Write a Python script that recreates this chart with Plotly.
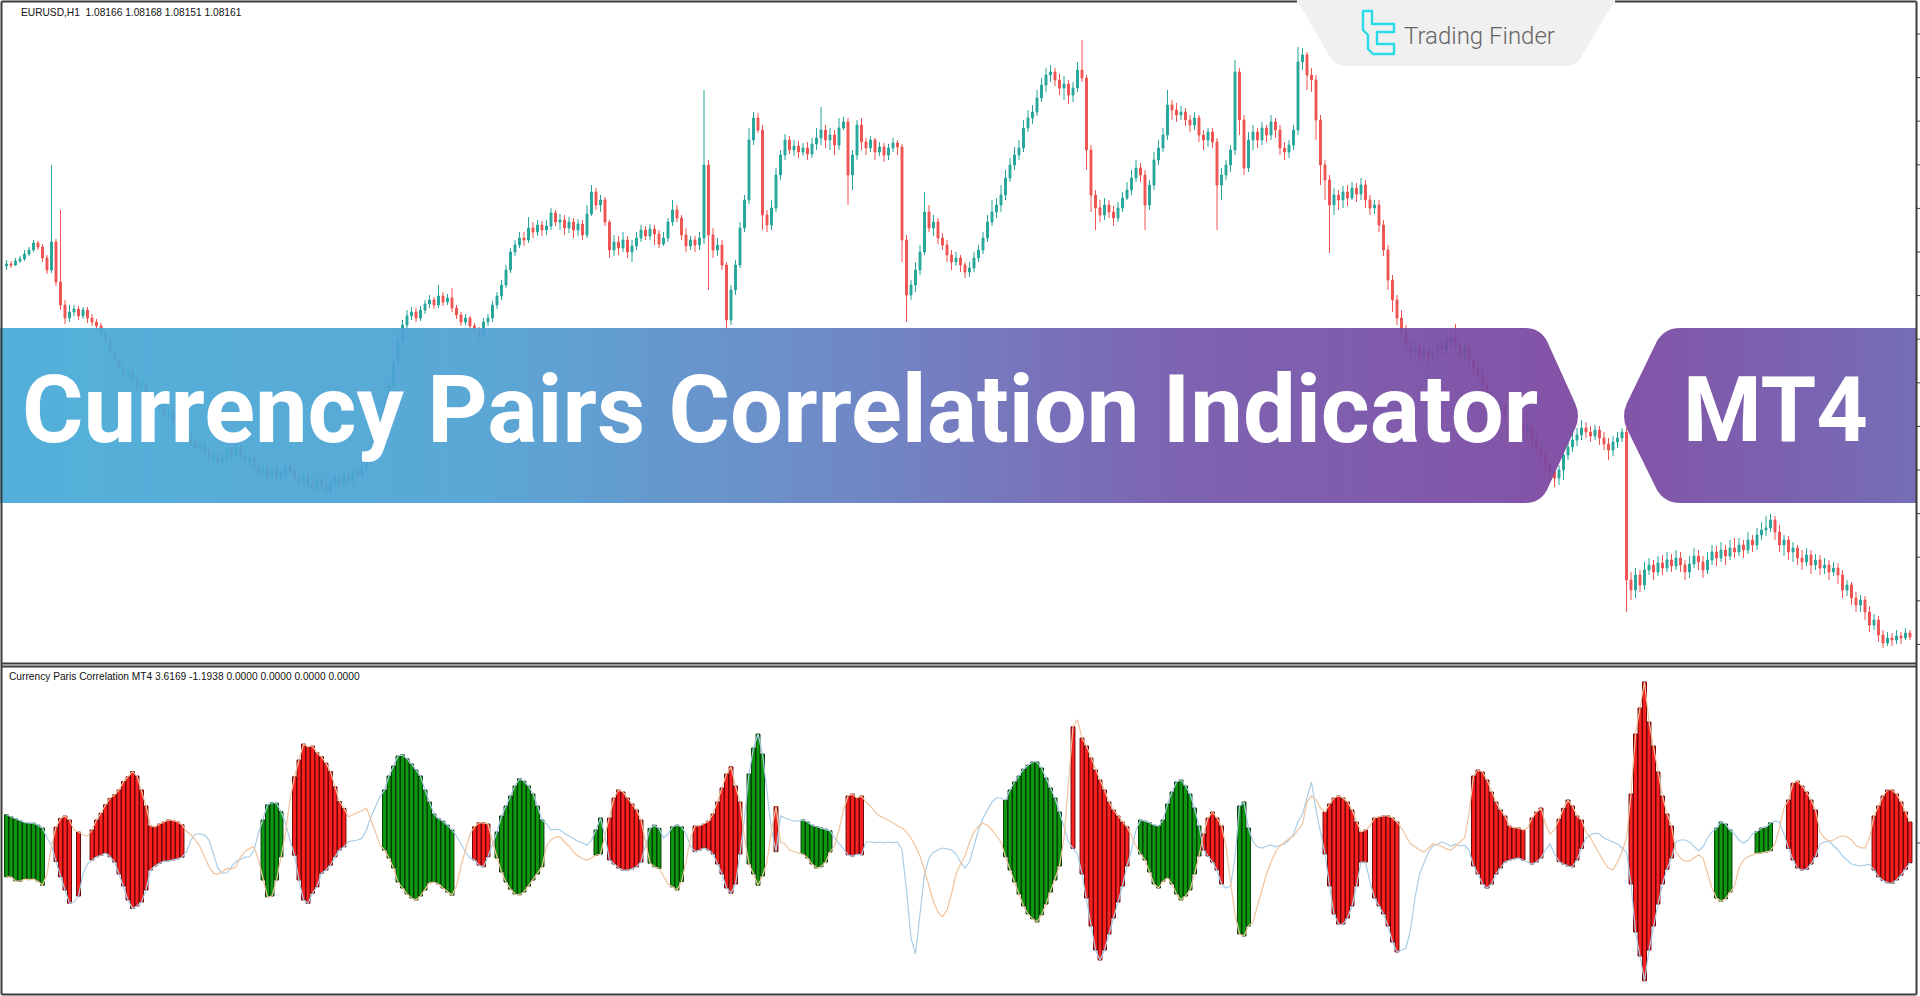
import base64
import plotly.graph_objects as go

W, H = 1920, 996

# ---------------- data: EURUSD H1 candles (price points, 1 pt = 0.00002) ----------------
BASE_PRICE = 1.07435
POINT = 0.00002

open_pts = [
    734, 736, 735, 739, 741, 746, 750, 757, 753, 742,
    730, 758, 718, 695, 682, 688, 691, 684, 690, 682,
    678, 674, 667, 660, 648, 640, 632, 625, 628, 620,
    612, 615, 605, 600, 602, 592, 585, 588, 580, 572,
    575, 565, 558, 552, 555, 548, 542, 545, 538, 542,
    550, 545, 552, 544, 538, 542, 534, 528, 532, 524,
    530, 522, 527, 534, 529, 522, 518, 524, 516, 512,
    520, 514, 510, 516, 522, 517, 524, 520, 528, 524,
    532, 538, 550, 560, 575, 595, 615, 638, 660, 675,
    684, 688, 682, 690, 696, 700, 695, 704, 698, 702,
    692, 685, 678, 682, 674, 670, 665, 678, 682, 695,
    704, 715, 730, 748, 755, 762, 760, 772, 768, 775,
    770, 774, 787, 778, 780, 772, 778, 770, 776, 765,
    786, 808, 795, 800, 778, 750, 758, 752, 760, 748,
    754, 762, 770, 764, 771, 766, 756, 762, 778, 790,
    782, 765, 754, 760, 755, 762, 835, 765, 750, 755,
    735, 680, 710, 735, 772, 800, 860, 882, 870, 785,
    775, 792, 825, 845, 860, 850, 854, 848, 852, 846,
    856, 862, 870, 860, 865, 855, 872, 878, 825, 845,
    875, 858, 852, 860, 848, 853, 845, 852, 857, 853,
    760, 705, 715, 730, 748, 788, 772, 778, 762, 755,
    745, 738, 742, 735, 728, 732, 742, 750, 762, 778,
    788, 795, 805, 822, 835, 845, 852, 872, 882, 888,
    902, 915, 925, 928, 920, 912, 916, 905, 912, 930,
    922, 850, 805, 792, 785, 795, 788, 782, 792, 802,
    810, 822, 832, 825, 795, 815, 840, 852, 865, 895,
    890, 885, 888, 880, 875, 882, 865, 860, 868, 858,
    815, 825, 835, 850, 928, 880, 832, 860, 868, 860,
    872, 865, 878, 870, 852, 848, 855, 870, 938, 945,
    925, 920, 880, 835, 820, 795, 805, 800, 808, 802,
    812, 806, 815, 800, 792, 795, 775, 750, 720, 700,
    682, 670, 655, 648, 652, 644, 650, 642, 648, 655,
    650, 658, 662, 655, 645, 652, 640, 632, 625, 615,
    605, 598, 590, 594, 585, 580, 585, 575, 568, 572,
    560, 552, 545, 535, 528, 522, 530, 545, 553, 560,
    565, 572, 568, 564, 570, 562, 556, 550, 558, 562,
    568, 420, 410, 425, 415, 430, 435, 428, 437, 432,
    440, 434, 442, 435, 428, 436, 444, 438, 430, 440,
    448, 442, 450, 444, 452, 448, 455, 450, 460, 455,
    465, 470, 472, 480, 468, 455, 460, 448, 452, 442,
    438, 445, 435, 440, 432, 435, 428, 432, 425, 410,
    415, 402, 395, 400, 388, 375, 380, 365, 357, 362,
    360, 364, 362, 367,
]
high_pts = [
    740, 739, 742, 744, 750, 753, 760, 759, 756, 745,
    835, 761, 790, 700, 695, 695, 694, 693, 693, 686,
    681, 677, 670, 663, 651, 643, 636, 631, 631, 623,
    618, 618, 609, 606, 605, 595, 592, 591, 583, 579,
    578, 568, 561, 559, 558, 551, 549, 548, 546, 554,
    553, 556, 555, 547, 545, 546, 537, 535, 536, 533,
    534, 530, 538, 537, 532, 526, 528, 528, 519, 523,
    523, 518, 519, 526, 525, 527, 528, 532, 531, 536,
    542, 554, 565, 580, 600, 620, 643, 665, 680, 690,
    693, 692, 694, 700, 705, 703, 715, 708, 706, 712,
    695, 688, 686, 684, 677, 673, 682, 686, 699, 708,
    720, 735, 752, 760, 768, 768, 783, 778, 780, 779,
    780, 792, 790, 786, 785, 783, 782, 781, 780, 795,
    815, 812, 805, 803, 780, 765, 764, 768, 764, 760,
    768, 775, 774, 776, 775, 770, 768, 782, 800, 795,
    785, 772, 764, 764, 768, 910, 840, 772, 762, 760,
    738, 715, 740, 778, 805, 872, 888, 887, 875, 790,
    800, 832, 850, 866, 864, 860, 859, 857, 858, 862,
    872, 893, 875, 872, 870, 882, 883, 882, 850, 880,
    882, 862, 864, 862, 858, 857, 856, 862, 860, 856,
    765, 720, 738, 755, 808, 795, 785, 782, 767, 760,
    750, 748, 745, 738, 738, 748, 755, 768, 785, 800,
    802, 815, 830, 842, 853, 860, 880, 890, 895, 910,
    922, 932, 935, 932, 926, 924, 920, 918, 938, 960,
    925, 855, 810, 800, 802, 800, 794, 798, 808, 818,
    830, 840, 837, 830, 820, 848, 860, 872, 910, 900,
    897, 894, 892, 885, 888, 885, 870, 872, 872, 862,
    832, 840, 855, 940, 932, 885, 868, 875, 872, 878,
    875, 885, 882, 875, 858, 860, 875, 953, 952, 948,
    932, 925, 885, 840, 825, 812, 810, 814, 815, 818,
    817, 822, 820, 805, 800, 800, 780, 755, 725, 705,
    690, 675, 660, 658, 656, 655, 654, 652, 660, 660,
    664, 670, 676, 660, 657, 656, 645, 638, 630, 620,
    610, 602, 600, 598, 590, 592, 588, 580, 578, 575,
    565, 558, 550, 540, 534, 535, 550, 560, 568, 572,
    580, 578, 574, 575, 574, 568, 562, 564, 568, 572,
    572, 428, 432, 430, 438, 442, 440, 444, 445, 448,
    446, 450, 448, 440, 444, 452, 450, 444, 448, 455,
    454, 458, 455, 460, 462, 462, 460, 468, 465, 472,
    478, 484, 486, 484, 475, 465, 464, 458, 455, 450,
    452, 450, 446, 445, 442, 440, 438, 437, 430, 420,
    418, 408, 405, 404, 394, 386, 384, 370, 368, 367,
    370, 368, 372, 370,
]
low_pts = [
    730, 732, 734, 737, 739, 744, 748, 750, 738, 726,
    727, 714, 690, 676, 678, 684, 680, 681, 677, 674,
    670, 664, 656, 645, 636, 628, 621, 622, 616, 608,
    609, 602, 596, 597, 589, 581, 582, 576, 568, 569,
    561, 554, 548, 549, 544, 538, 539, 534, 535, 539,
    542, 541, 540, 534, 535, 530, 524, 525, 520, 521,
    518, 519, 523, 526, 518, 514, 515, 512, 508, 509,
    511, 506, 507, 513, 514, 513, 517, 516, 521, 521,
    529, 535, 546, 556, 571, 591, 611, 634, 656, 671,
    680, 678, 679, 686, 692, 691, 692, 694, 695, 688,
    681, 674, 675, 670, 666, 660, 662, 674, 678, 691,
    700, 712, 727, 744, 752, 754, 757, 762, 764, 764,
    765, 770, 774, 770, 765, 767, 762, 764, 760, 762,
    784, 790, 788, 774, 742, 744, 745, 748, 742, 738,
    750, 758, 760, 760, 755, 752, 754, 758, 774, 778,
    760, 748, 750, 748, 750, 756, 710, 742, 744, 730,
    670, 675, 705, 732, 768, 796, 855, 867, 770, 768,
    770, 788, 820, 840, 846, 844, 842, 844, 840, 842,
    850, 855, 852, 850, 845, 850, 870, 795, 810, 840,
    850, 845, 848, 840, 844, 838, 840, 848, 845, 738,
    678, 700, 708, 725, 745, 768, 764, 756, 750, 738,
    730, 734, 728, 722, 723, 728, 738, 746, 758, 774,
    782, 788, 800, 818, 830, 840, 848, 868, 876, 884,
    898, 908, 918, 914, 905, 900, 896, 898, 908, 918,
    830, 788, 770, 778, 780, 782, 774, 778, 788, 800,
    805, 818, 818, 770, 790, 810, 835, 848, 860, 880,
    878, 880, 874, 868, 870, 858, 850, 853, 852, 770,
    800, 820, 828, 845, 865, 825, 828, 850, 852, 855,
    858, 860, 862, 845, 840, 842, 850, 865, 930, 910,
    908, 860, 815, 800, 747, 785, 790, 792, 794, 800,
    798, 800, 792, 785, 786, 768, 744, 710, 688, 675,
    662, 648, 640, 642, 638, 640, 635, 638, 642, 644,
    645, 652, 650, 640, 640, 632, 625, 618, 608, 598,
    590, 582, 584, 578, 572, 575, 568, 560, 562, 552,
    545, 538, 528, 520, 513, 515, 520, 540, 548, 554,
    560, 562, 558, 560, 555, 550, 540, 544, 552, 558,
    388, 400, 402, 408, 410, 425, 420, 424, 425, 428,
    428, 430, 428, 420, 422, 432, 430, 422, 426, 435,
    434, 438, 435, 440, 442, 444, 442, 446, 448, 450,
    460, 464, 468, 460, 448, 444, 440, 438, 435, 430,
    434, 426, 430, 425, 426, 420, 424, 416, 402, 404,
    395, 388, 388, 380, 368, 370, 358, 352, 354, 354,
    356, 356, 360, 360,
]
close_pts = [
    736, 735, 739, 741, 746, 750, 757, 753, 742, 730,
    758, 718, 695, 682, 688, 691, 684, 690, 682, 678,
    674, 667, 660, 648, 640, 632, 625, 628, 620, 612,
    615, 605, 600, 602, 592, 585, 588, 580, 572, 575,
    565, 558, 552, 555, 548, 542, 545, 538, 542, 550,
    545, 552, 544, 538, 542, 534, 528, 532, 524, 530,
    522, 527, 534, 529, 522, 518, 524, 516, 512, 520,
    514, 510, 516, 522, 517, 524, 520, 528, 524, 532,
    538, 550, 560, 575, 595, 615, 638, 660, 675, 684,
    688, 682, 690, 696, 700, 695, 704, 698, 702, 692,
    685, 678, 682, 674, 670, 665, 678, 682, 695, 704,
    715, 730, 748, 755, 762, 760, 772, 768, 775, 770,
    774, 787, 778, 780, 772, 778, 770, 776, 765, 786,
    808, 795, 800, 778, 750, 758, 752, 760, 748, 754,
    762, 770, 764, 771, 766, 756, 762, 778, 790, 782,
    765, 754, 760, 755, 762, 835, 765, 750, 755, 735,
    680, 710, 735, 772, 800, 860, 882, 870, 785, 775,
    792, 825, 845, 860, 850, 854, 848, 852, 846, 856,
    862, 870, 860, 865, 855, 872, 878, 825, 845, 875,
    858, 852, 860, 848, 853, 845, 852, 857, 853, 760,
    705, 715, 730, 748, 788, 772, 778, 762, 755, 745,
    738, 742, 735, 728, 732, 742, 750, 762, 778, 788,
    795, 805, 822, 835, 845, 852, 872, 882, 888, 902,
    915, 925, 928, 920, 912, 916, 905, 912, 930, 922,
    850, 805, 792, 785, 795, 788, 782, 792, 802, 810,
    822, 832, 825, 795, 815, 840, 852, 865, 895, 890,
    885, 888, 880, 875, 882, 865, 860, 868, 858, 815,
    825, 835, 850, 928, 880, 832, 860, 868, 860, 872,
    865, 878, 870, 852, 848, 855, 870, 938, 945, 925,
    920, 880, 835, 820, 795, 805, 800, 808, 802, 812,
    806, 815, 800, 792, 795, 775, 750, 720, 700, 682,
    670, 655, 648, 652, 644, 650, 642, 648, 655, 650,
    658, 662, 655, 645, 652, 640, 632, 625, 615, 605,
    598, 590, 594, 585, 580, 585, 575, 568, 572, 560,
    552, 545, 535, 528, 522, 530, 545, 553, 560, 565,
    572, 568, 564, 570, 562, 556, 550, 558, 562, 568,
    420, 410, 425, 415, 430, 435, 428, 437, 432, 440,
    434, 442, 435, 428, 436, 444, 438, 430, 440, 448,
    442, 450, 444, 452, 448, 455, 450, 460, 455, 465,
    470, 472, 480, 468, 455, 460, 448, 452, 442, 438,
    445, 435, 440, 432, 435, 428, 432, 425, 410, 415,
    402, 395, 400, 388, 375, 380, 365, 357, 362, 360,
    364, 362, 367, 363,
]

# ---------------- data: correlation indicator ----------------
blue_line = [
    .88, .83, .78, .73, .69, .67, .67, .62, .55, .3,
    .12, -.29, -.67, -1.0, -1.33, -1.3, -1.15, -.6, -.35, -.25,
    -.17, -.13, -.08, -.17, -.3, -.6, -.9, -1.25, -1.46, -1.4,
    -1.3, -1.0, -.5, -.4, -.33, -.28, -.27, -.25, -.22, -.18,
    -.04, .25, .4, .4, .38, .25, -.08, -.46, -.58, -.57,
    -.42, -.29, -.23, -.18, -.17, 0, .42, .75, 1.13, 1.18,
    1.17, .96, .67, .25, -.13, -.75, -1.25, -1.33, -1.08, -.92,
    -.58, -.5, -.38, -.17, 0, .08, .21, .23, .25, .29,
    .5, .83, 1.08, 1.33, 1.5, 1.85, 2.1, 2.35, 2.38, 2.28,
    2.15, 2.0, 1.85, 1.5, 1.2, .9, .78, .72, .62, .5,
    .35, .15, -.05, -.2, -.25, -.38, -.42, -.17, .15, .45,
    .85, 1.1, 1.35, 1.6, 1.78, 1.72, 1.6, 1.4, 1.1, .75,
    .65, .5, .52, .5, .42, .35, .27, .22, .18, .12,
    .25, .5, .8, .35, -.25, -.35, -.45, -.5, -.5, -.47,
    -.42, -.3, .1, .54, .62, .54, .3, .4, .58, .62,
    .58, .4, .1, -.04, 0, .05, 0, -.1, -.35, -.6,
    -.95, -1.08, -.85, -.1, .8, 1.9, 2.55, 2.9, 2.4, 1.4,
    .5, -.04, .85, .8, .75, .72, .73, .75, .7, .62,
    .58, .55, .52, .48, .3, .15, 0, -.12, -.15, -.1,
    -.12, .2, .2, .18, .2, .18, .2, .18, .2, 0,
    -1.0, -2.2, -2.6, -1.6, -.6, -.2, -.05, 0, .05, .03,
    0, -.1, -.3, -.45, -.3, .1, .5, .8, 1.0, 1.2,
    1.3, 1.3, 1.25, 1.5, 1.7, 1.85, 2.02, 2.12, 2.2, 2.2,
    2.05, 1.8, 1.55, 1.3, .95, .6, .2, .04, -.1, -.6,
    -1.2, -1.9, -2.5, -2.75, -2.5, -2.1, -1.7, -1.3, -.9, -.4,
    0, .5, .75, .72, .68, .62, .6, .75, 1.15, 1.45,
    1.7, 1.75, 1.6, 1.4, 1.05, .6, 0, -.15, -.3, -.5,
    -.85, -.95, -.9, -.2, 1.1, 1.2, .55, .2, .08, .05,
    .1, .12, .08, .12, .15, .25, .4, .7, .9, 1.3,
    1.7, 1.0, .4, -.1, -.9, -1.6, -1.85, -1.85, -1.7, -1.4,
    -.9, -.3, -.3, -.8, -1.2, -1.4, -1.6, -1.9, -2.3, -2.55,
    -2.5, -2.45, -2.0, -1.2, -.6, -.3, -.05, .1, .15, .2,
    .15, .1, .15, .1, .12, 0, -.4, -.6, -.85, -.95,
    -.85, -.6, -.45, -.3, -.25, -.22, -.2, -.25, -.3, -.35,
    -.3, -.2, 0, .15, -.1, -.29, -.35, -.4, -.42, -.25,
    .04, .3, .38, .42, .4, .3, .25, .2, .15, .05,
    -.05, -.85, -2.05, -2.65, -3.27, -2.5, -1.9, -1.35, -.85, -.48,
    -.2, .2, .25, .25, .2, .1, -.02, .08, .3, .45,
    .55, .7, .65, .5, .4, .25, .17, .25, .4, .46,
    .55, .57, .68, .72, .7, .4, .04, -.25, -.45, -.5,
    -.48, -.35, -.17, .15, .2, .22, .12, 0, -.15, -.25,
    -.35, -.38, -.4, -.38, -.36, -.5, -.67, -.76, -.82, -.83,
    -.75, -.63, -.48, -.32,
]
orange_line = [
    -.67, -.67, -.77, -.78, -.73, -.74, -.73, -.78, -.88, -.6,
    .1, .57, .79, .85, .75, .5, .45, .38, .35, .5,
    .75, .92, 1.13, 1.29, 1.38, 1.5, 1.71, 1.83, 1.96, 1.85,
    1.5, 1.1, .6, .58, .65, .7, .75, .74, .7, .63,
    .46, .38, .25, .08, -.17, -.42, -.58, -.6, -.54, -.46,
    -.48, -.42, -.17, -.04, .04, .08, -.25, -.75, -1.17, -1.15,
    -.75, -.17, .42, 1.25, 1.83, 2.25, 2.65, 2.58, 2.6, 2.43,
    2.33, 2.17, 1.96, 1.58, 1.21, 1.04, .83, .88, .93, 1.0,
    1.04, .75, .42, .13, 0, -.2, -.45, -.8, -.95, -1.1,
    -1.2, -1.25, -1.15, -1.0, -.82, -.8, -.85, -.95, -1.05, -1.13,
    -.9, -.4, 0, .4, .58, .68, .68, .65, .2, -.2,
    -.55, -.8, -.98, -1.1, -1.12, -1.05, -.9, -.75, -.6, -.42,
    .1, .25, .32, .33, .2, .1, -.05, -.15, -.22, -.25,
    -.2, -.13, -.1, .35, .8, 1.3, 1.5, 1.45, 1.3, 1.15,
    1.0, .75, .2, -.33, -.42, -.46, -.65, -.85, -.92, -1.0,
    -.79, -.3, .3, .6, .6, .65, .72, .9, 1.2, 1.55,
    1.9, 2.08, 1.6, 1.2, .3, -.35, -.6, -.88, -.65, -.3,
    .5, 1.08, .2, .15, 0, -.05, -.08, -.1, -.2, -.35,
    -.45, -.42, -.3, -.05, .1, .5, 1.0, 1.35, 1.4, 1.3,
    1.35, 1.2, 1.1, .95, .85, .8, .75, .68, .6, .55,
    .45, .3, .1, -.15, -.5, -.9, -1.3, -1.55, -1.67, -1.5,
    -1.1, -.6, -.35, -.15, .2, .45, .6, .67, .62, .5,
    .35, .2, -.17, -.5, -.8, -1.1, -1.4, -1.6, -1.72, -1.8,
    -1.62, -1.35, -1.05, -.75, -.4, .3, 1.7, 3.08, 3.25, 2.8,
    2.6, 2.3, 2.0, 1.75, 1.5, 1.2, 1.0, .85, .7, .58,
    .35, .1, -.1, -.25, -.55, -.85, -.95, -.78, -.7, -.85,
    -1.1, -1.25, -1.15, -1.0, -.6, -.15, .4, .8, .95, .8,
    .6, .1, -.8, -1.6, -2.1, -2.15, -1.9, -1.8, -1.4, -1.0,
    -.6, -.3, -.05, .1, .2, .28, .35, .5, .65, 1.2,
    1.35, 1.25, 1.05, .95, 1.15, 1.3, 1.35, 1.3, 1.2, 1.0,
    .7, .45, .5, .6, .8, .82, .85, .85, .8, .7,
    .55, .35, .15, .08, 0, -.05, .05, .15, .12, .1,
    .02, 0, .1, .2, .3, .9, 1.85, 2.0, 1.95, 1.75,
    1.45, 1.2, 1.0, .85, .6, .55, .55, .5, .55, .8,
    .95, 1.05, .65, .4, .5, .77, 1.04, 1.25, 1.1, .85,
    .75, .45, .3, .1, -.1, -.3, -.45, -.5, -.3, -.05,
    .3, 1.4, 2.9, 3.55, 4.2, 3.2, 2.6, 1.95, 1.35, .9,
    .6, -.05, -.2, -.28, -.28, -.2, -.12, -.2, -.55, -.95,
    -1.2, -1.28, -1.22, -1.05, -.9, -.45, -.25, -.17, -.12, -.08,
    -.07, -.05, -.02, .15, .55, 1.05, 1.25, 1.67, 1.72, 1.6,
    1.45, 1.25, 1.0, .45, .3, .22, .25, .32, .35, .33,
    .25, .12, .06, .05, .3, .85, 1.1, 1.35, 1.5, 1.5,
    1.4, 1.2, .95, .7,
]
# bar ranges (inclusive) where the histogram is drawn between the two lines
red_spans = [(11, 14), (16, 16), (19, 39), (64, 75), (104, 107), (134, 141), (153, 163),
             (171, 171), (187, 190), (237, 237), (239, 249), (266, 270), (293, 302),
             (304, 309), (326, 337), (339, 341), (345, 350), (361, 370), (396, 402), (415, 423)]
green_spans = [(0, 8), (57, 61), (84, 99), (109, 119), (131, 132), (143, 145), (148, 150),
               (165, 168), (177, 183), (222, 234), (252, 265), (274, 276), (380, 383), (389, 392)]

header_main = "EURUSD,H1\u00a0\u00a01.08166 1.08168 1.08151 1.08161"
header_ind = "Currency Paris Correlation MT4 3.6169 -1.1938 0.0000 0.0000 0.0000 0.0000"
banner_title = "Currency Pairs Correlation Indicator"
banner_tag = "MT4"
brand = "Trading Finder"

# ---------------- helpers ----------------
def X(px):
    return px / W


def Y(py):
    return 1 - py / H


N = len(close_pts)
idx = list(range(N))
to_price = lambda arr: [BASE_PRICE + v * POINT for v in arr]

fig = go.Figure()

fig.add_trace(go.Candlestick(
    x=idx, open=to_price(open_pts), high=to_price(high_pts),
    low=to_price(low_pts), close=to_price(close_pts),
    increasing=dict(line=dict(color="#26a69a", width=1), fillcolor="#26a69a"),
    decreasing=dict(line=dict(color="#ef5350", width=1), fillcolor="#ef5350"),
    whiskerwidth=0, xaxis="x", yaxis="y", showlegend=False, hoverinfo="skip",
))

fig.add_trace(go.Scatter(x=idx, y=blue_line, mode="lines", line=dict(color="#a9cde6", width=1.2),
                         xaxis="x2", yaxis="y2", showlegend=False, hoverinfo="skip"))
fig.add_trace(go.Scatter(x=idx, y=orange_line, mode="lines", line=dict(color="#f0c49e", width=1.2),
                         xaxis="x2", yaxis="y2", showlegend=False, hoverinfo="skip"))


def span_bars(spans, top, bottom):
    xs, base, length = [], [], []
    for a, b in spans:
        for i in range(a, b + 1):
            xs.append(i)
            base.append(bottom[i])
            length.append(top[i] - bottom[i])
    return xs, base, length


rx, rb, rl = span_bars(red_spans, orange_line, blue_line)
gx, gb, gl = span_bars(green_spans, blue_line, orange_line)
fig.add_trace(go.Bar(x=rx, y=rl, base=rb, width=0.86,
                     marker=dict(color="#ff2020", line=dict(color="#6a0000", width=1)),
                     xaxis="x2", yaxis="y2", showlegend=False, hoverinfo="skip"))
fig.add_trace(go.Bar(x=gx, y=gl, base=gb, width=0.86,
                     marker=dict(color="#0e9a0e", line=dict(color="#003800", width=1)),
                     xaxis="x2", yaxis="y2", showlegend=False, hoverinfo="skip"))

xr = [(0 - 6.5) / 4.5, (W - 6.5) / 4.5]
ax_common = dict(showgrid=False, zeroline=False, showticklabels=False, ticks="", showline=False)

fig.update_layout(
    width=W, height=H, margin=dict(l=0, r=0, t=0, b=0),
    paper_bgcolor="white", plot_bgcolor="white",
    barmode="overlay", boxgap=0.4,
    xaxis=dict(domain=[0, 1], range=xr, rangeslider=dict(visible=False), **ax_common),
    yaxis=dict(domain=[Y(662), Y(4)], range=[BASE_PRICE + 338 * POINT, BASE_PRICE + 996 * POINT], **ax_common),
    xaxis2=dict(domain=[0, 1], range=xr, anchor="y2", **ax_common),
    yaxis2=dict(domain=[Y(992), Y(668)], range=[-3.55, 4.55], anchor="x2", **ax_common),
)

# ---------------- banner graphics ----------------
banner_svg = """<svg xmlns="http://www.w3.org/2000/svg" width="1920" height="175" viewBox="0 0 1920 175" preserveAspectRatio="none">
<defs>
<linearGradient id="g1" x1="0" y1="0" x2="1580" y2="0" gradientUnits="userSpaceOnUse">
<stop offset="0" stop-color="#47abd8"/>
<stop offset="0.3" stop-color="#4ea2d3"/>
<stop offset="0.52" stop-color="#6483c4"/>
<stop offset="0.74" stop-color="#7459ad"/>
<stop offset="1" stop-color="#7a46a0"/>
</linearGradient>
<linearGradient id="g2" x1="1621" y1="0" x2="1916" y2="0" gradientUnits="userSpaceOnUse">
<stop offset="0" stop-color="#7a47a1"/>
<stop offset="1" stop-color="#6b63b2"/>
</linearGradient>
</defs>
<path d="M0,0 L1525,0 Q1540,0 1547,13 L1575,75 Q1581,88 1575,101 L1547,162 Q1540,175 1525,175 L0,175 Z" fill="url(#g1)"/>
<path d="M1916,0 L1680,0 Q1665,0 1657,13 L1627,75 Q1621,88 1627,101 L1657,162 Q1665,175 1680,175 L1916,175 Z" fill="url(#g2)"/>
</svg>"""

tab_svg = """<svg xmlns="http://www.w3.org/2000/svg" width="330" height="70" viewBox="0 0 330 70" preserveAspectRatio="none">
<path d="M5,0 L323,0 L289,57 Q284,66 273,66 L54,66 Q43,66 38,57 Z" fill="#f0f0f0"/>
<path d="M71,11 L80,11 L80,24 L102,24 L102,32 L85,32 L85,44 L102,44 L102,54 L81,54 L76,49 L76,35 L71,30 Z" fill="none" stroke="#27dbe9" stroke-width="2.4" stroke-linejoin="round"/>
</svg>"""


def svg_uri(s):
    return "data:image/svg+xml;base64," + base64.b64encode(s.encode("utf-8")).decode("ascii")


fig.add_layout_image(dict(source=svg_uri(banner_svg), xref="paper", yref="paper",
                          x=0, y=Y(328), sizex=1, sizey=175 / H, xanchor="left", yanchor="top",
                          sizing="stretch", layer="above", opacity=0.93))
fig.add_layout_image(dict(source=svg_uri(tab_svg), xref="paper", yref="paper",
                          x=X(1292), y=Y(0), sizex=330 / W, sizey=70 / H, xanchor="left", yanchor="top",
                          sizing="stretch", layer="above", opacity=1))

# ---------------- frame ----------------
frame = "#3d3d3d"
segs = [
    (1.5, 1.5, 1297, 1.5), (1615, 1.5, 1916.5, 1.5),
    (1.5, 1.5, 1.5, 994.5), (1916.5, 1.5, 1916.5, 994.5),
    (1.5, 663.5, 1916.5, 663.5), (1.5, 666.5, 1916.5, 666.5),
    (1.5, 994.5, 1916.5, 994.5),
]
for x0, y0, x1, y1 in segs:
    fig.add_shape(type="line", xref="paper", yref="paper", x0=X(x0), y0=Y(y0), x1=X(x1), y1=Y(y1),
                  line=dict(color=frame, width=2))
for k in range(15):
    ty = 34 + 43.6 * k
    if ty < 660:
        fig.add_shape(type="line", xref="paper", yref="paper", x0=X(1917), x1=X(1920), y0=Y(ty), y1=Y(ty),
                      line=dict(color=frame, width=1))
fig.add_shape(type="line", xref="paper", yref="paper", x0=X(1917), x1=X(1920), y0=Y(843), y1=Y(843),
              line=dict(color=frame, width=1))

# ---------------- texts ----------------
small_font = "Liberation Sans, Arial, sans-serif"
fig.add_annotation(text=header_main, xref="paper", yref="paper", x=X(19), y=Y(12),
                   xanchor="left", yanchor="middle", showarrow=False,
                   font=dict(family=small_font, size=10.2, color="#111111"))
fig.add_annotation(text=header_ind, xref="paper", yref="paper", x=X(7), y=Y(676),
                   xanchor="left", yanchor="middle", showarrow=False,
                   font=dict(family=small_font, size=10.2, color="#111111"))
fig.add_annotation(text=banner_title, xref="paper", yref="paper", x=X(20), y=Y(410),
                   xanchor="left", yanchor="middle", showarrow=False,
                   font=dict(family="Roboto", size=94, color="white", weight=700))
fig.add_annotation(text=banner_tag, xref="paper", yref="paper", x=X(1775), y=Y(410),
                   xanchor="center", yanchor="middle", showarrow=False,
                   font=dict(family="Roboto", size=90, color="white", weight=700))
fig.add_annotation(text=brand, xref="paper", yref="paper", x=X(1402), y=Y(36),
                   xanchor="left", yanchor="middle", showarrow=False,
                   font=dict(family="Roboto", size=24, color="#666666", weight=300))

fig.write_html("out.html", include_plotlyjs=True, config={"displayModeBar": False},
               post_script="document.body.style.margin='0';document.body.style.overflow='hidden';")
